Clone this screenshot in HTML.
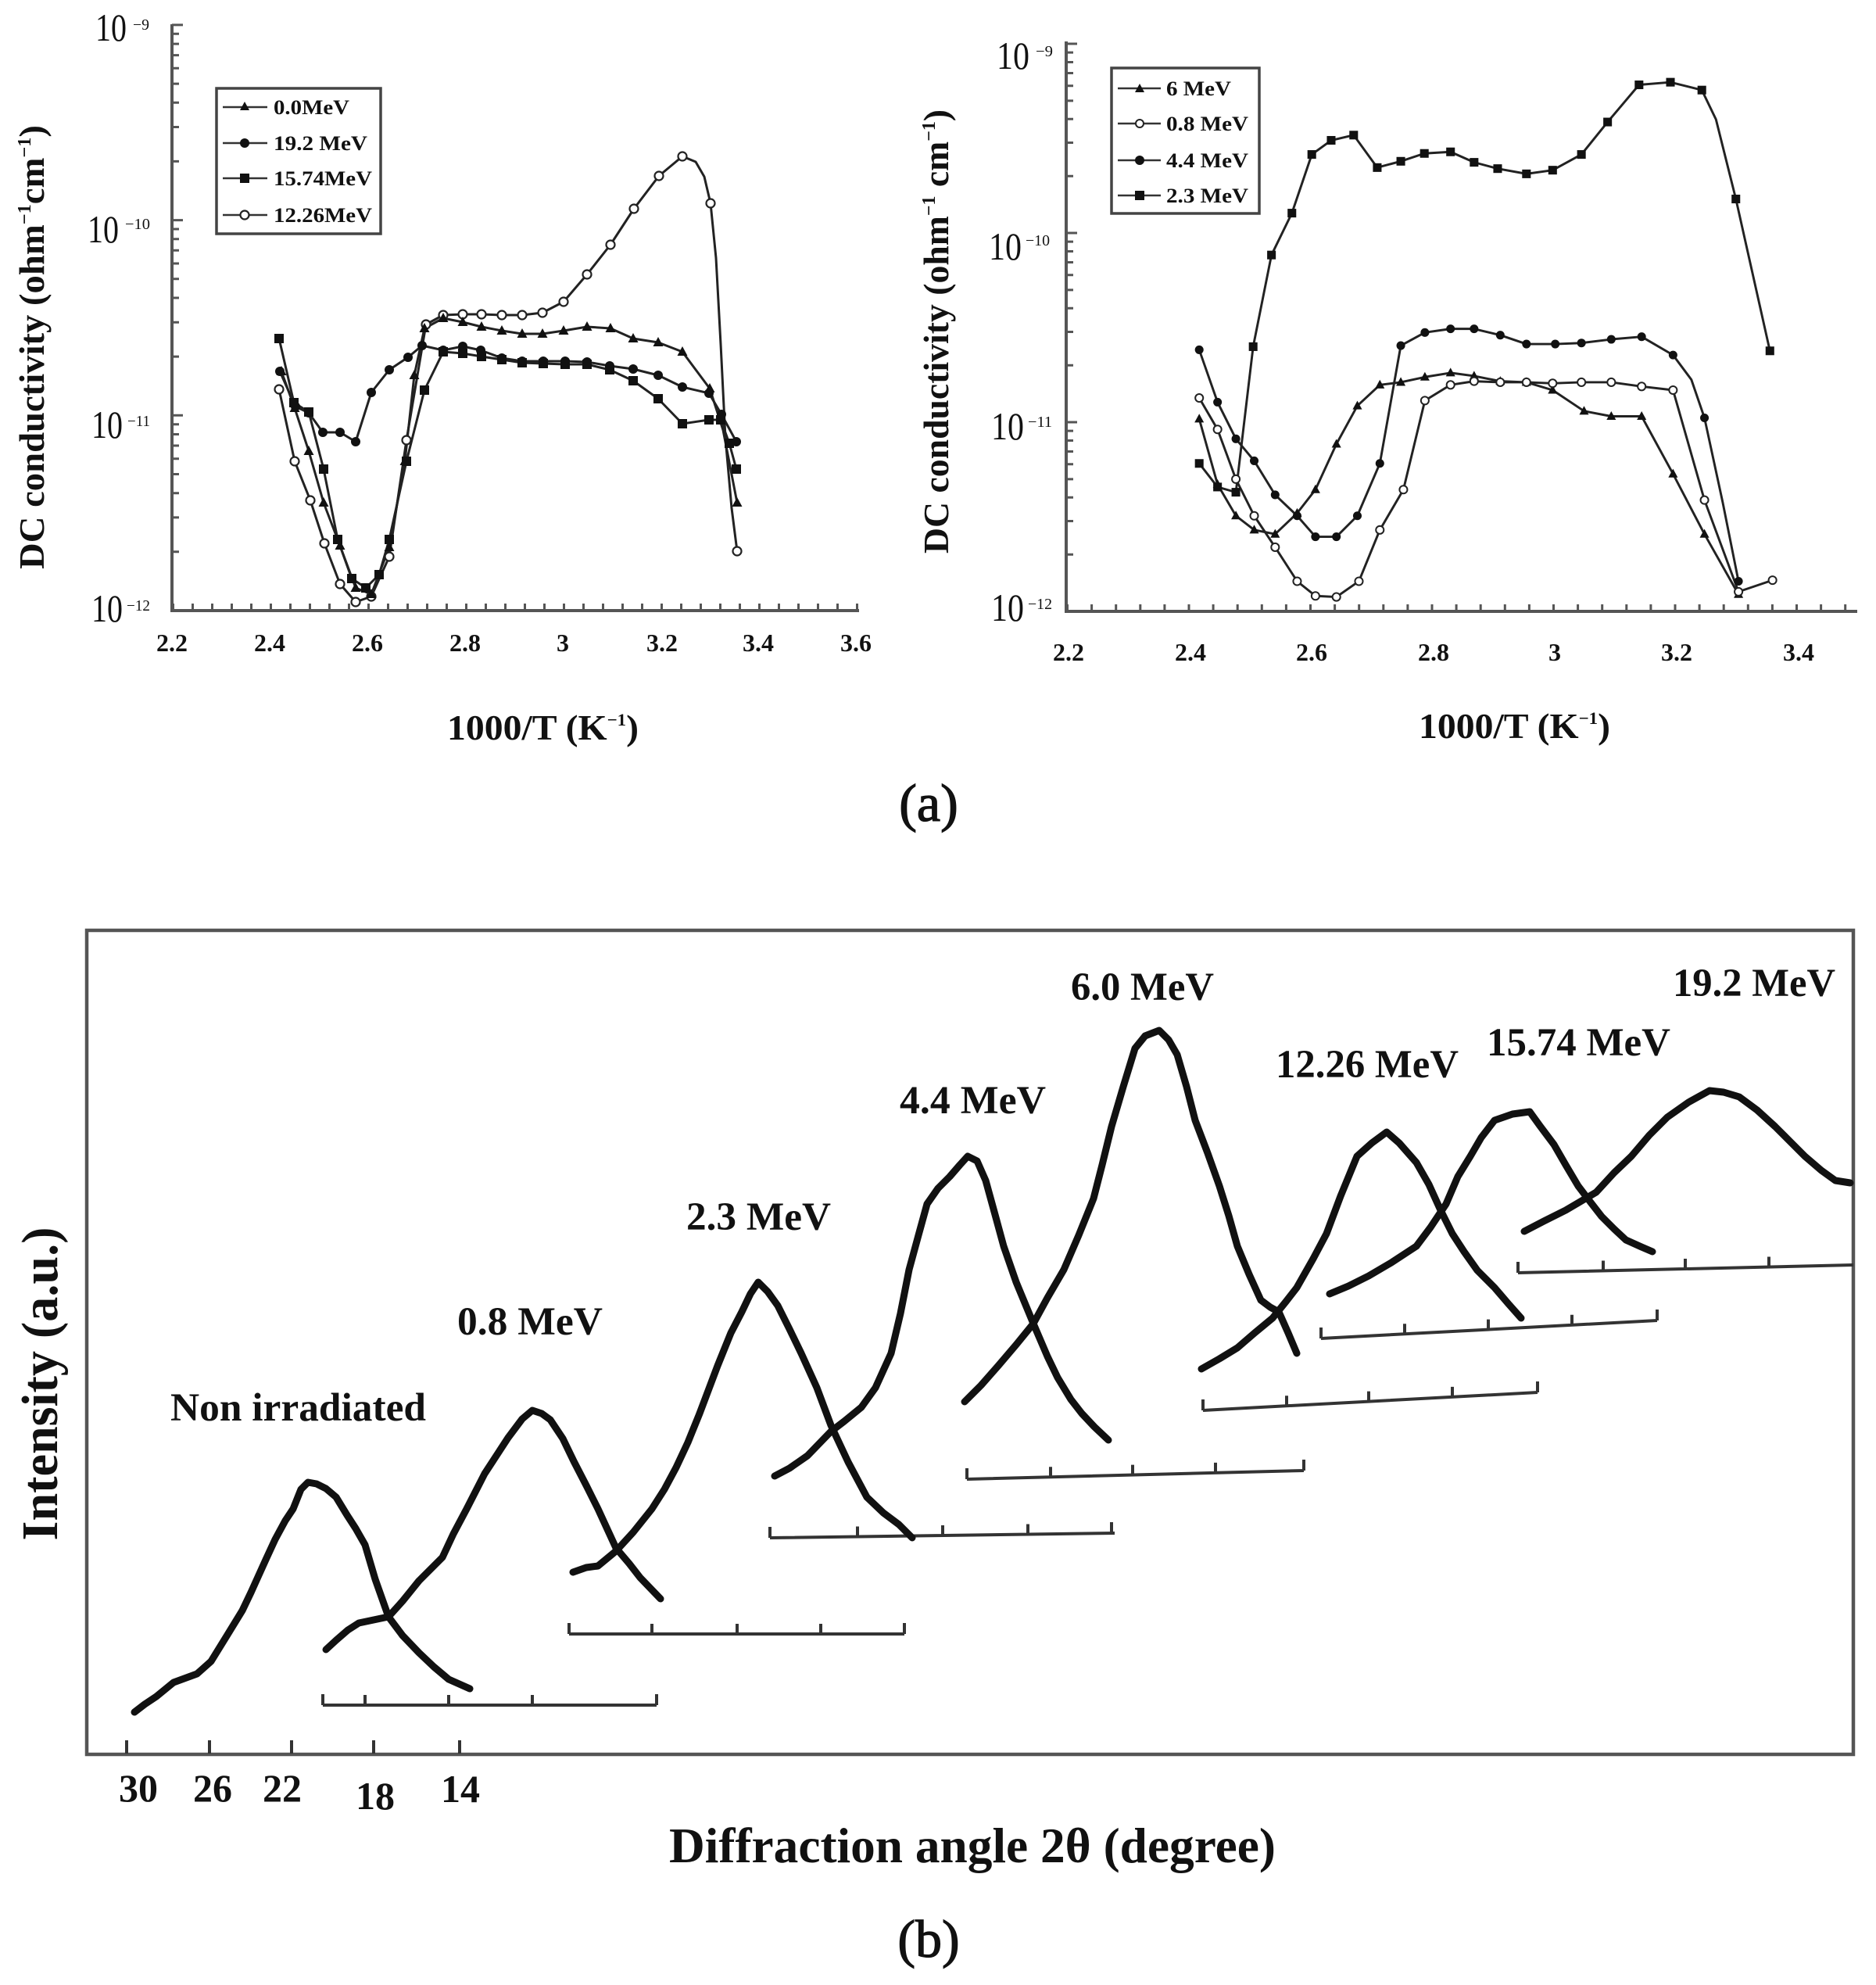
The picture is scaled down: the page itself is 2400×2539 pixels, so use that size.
<!DOCTYPE html>
<html><head><meta charset="utf-8"><style>html,body{margin:0;padding:0;background:#fff}svg{display:block}</style></head>
<body>
<svg width="2400" height="2539" viewBox="0 0 2400 2539" xmlns="http://www.w3.org/2000/svg" font-family="'Liberation Serif', serif">
<rect width="2400" height="2539" fill="#fff"/>
<defs>
<marker id="tL" markerUnits="userSpaceOnUse" markerWidth="16" markerHeight="16" viewBox="-8 -8 16 16" refX="0" refY="0" overflow="visible"><polygon points="0,-7 6.5,5 -6.5,5" fill="#111"/></marker>
<marker id="cL" markerUnits="userSpaceOnUse" markerWidth="16" markerHeight="16" viewBox="-8 -8 16 16" refX="0" refY="0" overflow="visible"><circle r="6" fill="#111"/></marker>
<marker id="sL" markerUnits="userSpaceOnUse" markerWidth="16" markerHeight="16" viewBox="-8 -8 16 16" refX="0" refY="0" overflow="visible"><rect x="-6" y="-6" width="12" height="12" fill="#111"/></marker>
<marker id="oL" markerUnits="userSpaceOnUse" markerWidth="16" markerHeight="16" viewBox="-8 -8 16 16" refX="0" refY="0" overflow="visible"><circle r="5.5" fill="#fff" stroke="#222" stroke-width="2.2"/></marker>
<marker id="tR" markerUnits="userSpaceOnUse" markerWidth="24" markerHeight="24" viewBox="-8 -8 16 16" refX="0" refY="0" overflow="visible"><polygon points="0,-6.5 6,4.5 -6,4.5" fill="#111"/></marker>
<marker id="cR" markerUnits="userSpaceOnUse" markerWidth="24" markerHeight="24" viewBox="-8 -8 16 16" refX="0" refY="0" overflow="visible"><circle r="5.5" fill="#111"/></marker>
<marker id="sR" markerUnits="userSpaceOnUse" markerWidth="24" markerHeight="24" viewBox="-8 -8 16 16" refX="0" refY="0" overflow="visible"><rect x="-5.5" y="-5.5" width="11" height="11" fill="#111"/></marker>
<marker id="oR" markerUnits="userSpaceOnUse" markerWidth="24" markerHeight="24" viewBox="-8 -8 16 16" refX="0" refY="0" overflow="visible"><circle r="5" fill="#fff" stroke="#222" stroke-width="2"/></marker>
</defs>

<!-- ============ LEFT TOP CHART ============ -->
<g stroke="#555" fill="none">
<line x1="220" y1="31" x2="220" y2="781" stroke-width="4"/>
<line x1="218" y1="781" x2="1099" y2="781" stroke-width="4"/>
<line x1="220" y1="776" x2="1099" y2="776" stroke-width="8" stroke-dasharray="3 22"/>
<path stroke-width="3" d="M220 781h14M220 531.3h14M220 281.6h14M220 31.9h14
M220 705.8h9M220 661.9h9M220 630.7h9M220 606.5h9M220 586.7h9M220 570h9M220 555.5h9M220 542.7h9
M220 456.1h9M220 412.2h9M220 381h9M220 356.8h9M220 337h9M220 320.3h9M220 305.8h9M220 293h9
M220 206.4h9M220 162.5h9M220 131.3h9M220 107.1h9M220 87.3h9M220 70.6h9M220 56.1h9M220 43.3h9"/>
</g>
<g fill="#111">
<text x="122" y="52" font-size="50" textLength="40" lengthAdjust="spacingAndGlyphs">10</text>
<text x="170" y="38" font-size="20" textLength="21" lengthAdjust="spacingAndGlyphs">−9</text>
<text x="112" y="310" font-size="50" textLength="40" lengthAdjust="spacingAndGlyphs">10</text>
<text x="160" y="293" font-size="20" textLength="32" lengthAdjust="spacingAndGlyphs">−10</text>
<text x="117" y="560" font-size="50" textLength="40" lengthAdjust="spacingAndGlyphs">10</text>
<text x="163" y="545" font-size="20" textLength="29" lengthAdjust="spacingAndGlyphs">−11</text>
<text x="117" y="795" font-size="50" textLength="40" lengthAdjust="spacingAndGlyphs">10</text>
<text x="162" y="781" font-size="20" textLength="30" lengthAdjust="spacingAndGlyphs">−12</text>
</g>
<g font-size="32" font-weight="bold" text-anchor="middle" fill="#111">
<text x="220" y="833">2.2</text><text x="345" y="833">2.4</text><text x="470" y="833">2.6</text><text x="595" y="833">2.8</text>
<text x="720" y="833">3</text><text x="847" y="833">3.2</text><text x="970" y="833">3.4</text><text x="1095" y="833">3.6</text>
</g>
<text x="572" y="946" font-size="46" font-weight="bold" fill="#111" textLength="245" lengthAdjust="spacingAndGlyphs">1000/T (K<tspan font-size="22" dy="-18">−1</tspan><tspan dy="18">)</tspan></text>
<text transform="translate(56,444) rotate(-90)" text-anchor="middle" font-size="46" font-weight="bold" fill="#111" textLength="568" lengthAdjust="spacingAndGlyphs">DC conductivity (ohm<tspan font-size="24" dy="-17">−1</tspan><tspan dy="17">cm</tspan><tspan font-size="24" dy="-17">−1</tspan><tspan dy="17">)</tspan></text>

<!-- legend left -->
<rect x="277" y="113" width="210" height="186" fill="#fff" stroke="#444" stroke-width="3.5"/>
<g stroke="#333" stroke-width="2.6">
<line x1="285" y1="137" x2="342" y2="137"/><line x1="285" y1="183" x2="342" y2="183"/>
<line x1="285" y1="228" x2="342" y2="228"/><line x1="285" y1="275" x2="342" y2="275"/>
</g>
<polygon points="313,130 319,141 307,141" fill="#111"/>
<circle cx="313" cy="183" r="6" fill="#111"/>
<rect x="307" y="222" width="12" height="12" fill="#111"/>
<circle cx="313" cy="275" r="5.5" fill="#fff" stroke="#222" stroke-width="2.2"/>
<g font-size="26" font-weight="bold" fill="#111">
<text x="350" y="146" textLength="97" lengthAdjust="spacingAndGlyphs">0.0MeV</text>
<text x="350" y="192" textLength="120" lengthAdjust="spacingAndGlyphs">19.2 MeV</text>
<text x="350" y="237" textLength="126" lengthAdjust="spacingAndGlyphs">15.74MeV</text>
<text x="350" y="284" textLength="126" lengthAdjust="spacingAndGlyphs">12.26MeV</text>
</g>

<!-- left curves -->
<g fill="none" stroke="#222" stroke-width="3" stroke-linejoin="round">
<polyline points="357,498 377,590 397,640 415,695 435,747 455,770 475,763 498,712 520,563 545,415 567,403 592,402 616,402 642,403 668,403 694,400 721,386 751,351 781,313 811,267 843,225 873,200 890,207 901,226 909,260 916,330 922,440 928,560 936,650 943,705"/>
<polyline points="360,475 377,522 395,577 414,643 435,698 455,752 475,760 498,700 518,590 530,480 543,420 567,407 592,412 616,418 642,423 668,427 694,427 721,423 751,418 781,420 810,433 842,438 873,450 908,497 925,550 943,643"/>
<polyline points="358,475 378,520 395,528 413,553 435,553 455,565 475,502 498,473 522,457 540,442 567,448 592,443 615,448 642,458 668,462 695,462 723,462 751,463 780,468 810,472 842,480 873,495 907,503 923,530 942,565"/>
<polyline points="357,433 376,515 395,527 414,600 432,690 450,740 468,752 485,735 498,690 520,590 543,499 567,450 592,452 616,456 642,460 668,464 695,465 723,466 751,466 780,473 810,487 842,510 873,542 907,537 922,537 933,567 942,600"/>
</g>
<g fill="none" stroke="none">
<polyline marker-start="url(#oL)" marker-mid="url(#oL)" marker-end="url(#oL)" points="357,498 377,590 397,640 415,695 435,747 455,770 475,763 498,712 520,563 545,415 567,403 592,402 616,402 642,403 668,403 694,400 721,386 751,351 781,313 811,267 843,225 873,200 909,260 943,705"/>
<polyline marker-start="url(#tL)" marker-mid="url(#tL)" marker-end="url(#tL)" points="360,475 377,522 395,577 414,643 435,698 455,752 475,760 498,700 518,590 530,480 543,420 567,407 592,412 616,418 642,423 668,427 694,427 721,423 751,418 781,420 810,433 842,438 873,450 908,497 943,643"/>
<polyline marker-start="url(#cL)" marker-mid="url(#cL)" marker-end="url(#cL)" points="358,475 378,520 395,528 413,553 435,553 455,565 475,502 498,473 522,457 540,442 567,448 592,443 615,448 642,458 668,462 695,462 723,462 751,463 780,468 810,472 842,480 873,495 907,503 923,530 942,565"/>
<polyline marker-start="url(#sL)" marker-mid="url(#sL)" marker-end="url(#sL)" points="357,433 376,515 395,527 414,600 432,690 450,740 468,752 485,735 498,690 520,590 543,499 567,450 592,452 616,456 642,460 668,464 695,465 723,466 751,466 780,473 810,487 842,510 873,542 907,537 922,537 933,567 942,600"/>
</g>

<!-- ============ RIGHT TOP CHART ============ -->
<g stroke="#555" fill="none">
<line x1="1364" y1="53" x2="1364" y2="782" stroke-width="4"/>
<line x1="1362" y1="782" x2="2376" y2="782" stroke-width="4"/>
<line x1="1364" y1="777" x2="2376" y2="777" stroke-width="8" stroke-dasharray="3 28.1"/>
<path stroke-width="3" d="M1364 782h14M1364 540h14M1364 298h14M1364 56h14
M1364 709.2h9M1364 666.5h9M1364 636.3h9M1364 612.9h9M1364 593.7h9M1364 577.5h9M1364 563.5h9M1364 551.1h9
M1364 467.2h9M1364 424.5h9M1364 394.3h9M1364 370.9h9M1364 351.7h9M1364 335.5h9M1364 321.5h9M1364 309.1h9
M1364 225.2h9M1364 182.5h9M1364 152.3h9M1364 128.9h9M1364 109.7h9M1364 93.5h9M1364 79.5h9M1364 67.1h9"/>
</g>
<g fill="#111">
<text x="1275" y="88" font-size="50" textLength="42" lengthAdjust="spacingAndGlyphs">10</text>
<text x="1325" y="72" font-size="20" textLength="22" lengthAdjust="spacingAndGlyphs">−9</text>
<text x="1265" y="332" font-size="50" textLength="42" lengthAdjust="spacingAndGlyphs">10</text>
<text x="1312" y="314" font-size="20" textLength="31" lengthAdjust="spacingAndGlyphs">−10</text>
<text x="1268" y="562" font-size="50" textLength="42" lengthAdjust="spacingAndGlyphs">10</text>
<text x="1315" y="546" font-size="20" textLength="31" lengthAdjust="spacingAndGlyphs">−11</text>
<text x="1268" y="794" font-size="50" textLength="42" lengthAdjust="spacingAndGlyphs">10</text>
<text x="1315" y="779" font-size="20" textLength="31" lengthAdjust="spacingAndGlyphs">−12</text>
</g>
<g font-size="32" font-weight="bold" text-anchor="middle" fill="#111">
<text x="1367" y="845">2.2</text><text x="1523" y="845">2.4</text><text x="1678" y="845">2.6</text><text x="1834" y="845">2.8</text>
<text x="1989" y="845">3</text><text x="2145" y="845">3.2</text><text x="2301" y="845">3.4</text>
</g>
<text x="1815" y="944" font-size="46" font-weight="bold" fill="#111" textLength="245" lengthAdjust="spacingAndGlyphs">1000/T (K<tspan font-size="22" dy="-18">−1</tspan><tspan dy="18">)</tspan></text>
<text transform="translate(1213,424) rotate(-90)" text-anchor="middle" font-size="46" font-weight="bold" fill="#111" textLength="568" lengthAdjust="spacingAndGlyphs">DC conductivity (ohm<tspan font-size="24" dy="-17">−1</tspan><tspan dy="17"> cm</tspan><tspan font-size="24" dy="-17">−1</tspan><tspan dy="17">)</tspan></text>

<!-- legend right -->
<rect x="1422" y="87" width="189" height="186" fill="#fff" stroke="#444" stroke-width="3.5"/>
<g stroke="#333" stroke-width="2.6">
<line x1="1430" y1="113" x2="1485" y2="113"/><line x1="1430" y1="158" x2="1485" y2="158"/>
<line x1="1430" y1="205" x2="1485" y2="205"/><line x1="1430" y1="250" x2="1485" y2="250"/>
</g>
<polygon points="1458,107 1464,118 1452,118" fill="#111"/>
<circle cx="1458" cy="158" r="5" fill="#fff" stroke="#222" stroke-width="2"/>
<circle cx="1458" cy="205" r="6" fill="#111"/>
<rect x="1452" y="244" width="12" height="12" fill="#111"/>
<g font-size="26" font-weight="bold" fill="#111">
<text x="1492" y="122" textLength="83" lengthAdjust="spacingAndGlyphs">6 MeV</text>
<text x="1492" y="167" textLength="105" lengthAdjust="spacingAndGlyphs">0.8 MeV</text>
<text x="1492" y="214" textLength="105" lengthAdjust="spacingAndGlyphs">4.4 MeV</text>
<text x="1492" y="259" textLength="105" lengthAdjust="spacingAndGlyphs">2.3 MeV</text>
</g>

<g transform="translate(1350,0) scale(0.6698)">
<g fill="none" stroke="#222" stroke-width="4.4" stroke-linejoin="round">
<polyline points="275,885 310,930 345,940 378,662 413,487 452,407 490,295 527,268 570,258 615,320 660,308 705,293 755,290 800,310 845,322 900,332 950,325 1005,295 1055,233 1115,162 1175,157 1235,172 1262,228 1300,380 1365,670"/>
<polyline points="275,668 310,768 345,838 380,880 420,945 462,985 497,1025 537,1025 577,985 620,885 660,660 706,635 755,628 800,628 850,640 900,657 955,657 1005,655 1062,648 1120,643 1180,678 1215,725 1240,798 1275,960 1305,1110"/>
<polyline points="275,800 310,925 345,985 380,1012 420,1020 462,980 497,935 537,848 577,775 620,735 660,730 706,720 755,712 800,718 850,728 900,730 950,745 1010,785 1062,795 1120,795 1180,905 1240,1020 1305,1135"/>
<polyline points="275,760 310,820 345,915 380,985 420,1045 462,1110 497,1138 537,1140 580,1110 620,1012 665,935 706,765 755,735 800,728 850,730 900,730 950,732 1005,730 1062,730 1120,738 1180,745 1240,955 1305,1130 1370,1108"/>
</g>
<g fill="none" stroke="none">
<polyline marker-start="url(#sR)" marker-mid="url(#sR)" marker-end="url(#sR)" points="275,885 310,930 345,940 378,662 413,487 452,407 490,295 527,268 570,258 615,320 660,308 705,293 755,290 800,310 845,322 900,332 950,325 1005,295 1055,233 1115,162 1175,157 1235,172 1300,380 1365,670"/>
<polyline marker-start="url(#cR)" marker-mid="url(#cR)" marker-end="url(#cR)" points="275,668 310,768 345,838 380,880 420,945 462,985 497,1025 537,1025 577,985 620,885 660,660 706,635 755,628 800,628 850,640 900,657 955,657 1005,655 1062,648 1120,643 1180,678 1240,798 1305,1110"/>
<polyline marker-start="url(#tR)" marker-mid="url(#tR)" marker-end="url(#tR)" points="275,800 310,925 345,985 380,1012 420,1020 462,980 497,935 537,848 577,775 620,735 660,730 706,720 755,712 800,718 850,728 900,730 950,745 1010,785 1062,795 1120,795 1180,905 1240,1020 1305,1135"/>
<polyline marker-start="url(#oR)" marker-mid="url(#oR)" marker-end="url(#oR)" points="275,760 310,820 345,915 380,985 420,1045 462,1110 497,1138 537,1140 580,1110 620,1012 665,935 706,765 755,735 800,728 850,730 900,730 950,732 1005,730 1062,730 1120,738 1180,745 1240,955 1305,1130 1370,1108"/>
</g>
</g>

<text x="1188" y="1050" font-size="68" text-anchor="middle" fill="#111" stroke="#111" stroke-width="1.3">(a)</text>

<!-- ============ BOTTOM PANEL ============ -->
<rect x="111" y="1190" width="2260" height="1054" fill="none" stroke="#555" stroke-width="4.5"/>
<path d="M162 2243v-17M268 2243v-17M373 2243v-17M478 2243v-17M588 2243v-17" stroke="#333" stroke-width="4"/>
<g font-size="50" font-weight="bold" text-anchor="middle" fill="#111">
<text x="177" y="2304">30</text><text x="272" y="2304">26</text><text x="361" y="2304">22</text>
<text x="480" y="2314">18</text><text x="589" y="2305">14</text>
</g>
<text x="856" y="2382" font-size="64" font-weight="bold" fill="#111" textLength="776" lengthAdjust="spacingAndGlyphs">Diffraction angle 2θ (degree)</text>
<text transform="translate(73,1770) rotate(-90)" text-anchor="middle" font-size="66" font-weight="bold" fill="#111" textLength="401" lengthAdjust="spacingAndGlyphs">Intensity (a.u.)</text>
<text x="1188" y="2503" font-size="68" text-anchor="middle" fill="#111" stroke="#111" stroke-width="1.3">(b)</text>

<!-- baselines/brackets -->
<g fill="none" stroke="#333" stroke-width="4">
<path d="M413 2181H840M413 2181v-14M467 2181v-13M574 2181v-13M681 2181v-13M840 2181v-14"/>
<path d="M728 2090H1157M728 2090v-14M834 2090v-13M943 2090v-13M1050 2090v-13M1157 2090v-14"/>
<path d="M985 1967L1426 1961M985 1967v-14M1097 1965.5v-13M1206 1964v-13M1315 1962.5v-13M1422 1961v-14"/>
<path d="M1237 1892L1668 1881M1237 1892v-14M1344 1889.3v-13M1449 1886.6v-13M1555 1883.9v-13M1668 1881v-14"/>
<path d="M1539 1804L1967 1781M1539 1804v-14M1646 1798.2v-13M1751 1792.6v-13M1858 1786.9v-13M1967 1781v-14"/>
<path d="M1690 1712L2120 1689M1690 1712v-14M1797 1706.3v-13M1904 1700.6v-13M2011 1694.8v-13M2120 1689v-14"/>
<path d="M1942 1628L2371 1618M1942 1628v-14M2051 1625.5v-13M2156 1623v-13M2263 1620.5v-13"/>
</g>

<!-- diffraction curves -->
<g fill="none" stroke="#111" stroke-width="9" stroke-linejoin="round" stroke-linecap="round">
<polyline points="172,2190 185,2180 200,2170 222,2152 252,2141 270,2125 291,2091 310,2060 321,2037 340,1995 352,1969 365,1945 375,1930 385,1905 394,1896 405,1898 417,1904 430,1915 444,1938 455,1955 467,1976 480,2020 497,2068 515,2092 536,2114 555,2132 574,2148 601,2160"/>
<polyline points="417,2110 430,2098 445,2085 459,2076 478,2072 497,2068 515,2048 536,2022 555,2003 566,1992 580,1962 597,1930 620,1885 650,1839 668,1815 681,1804 693,1808 704,1816 720,1840 734,1869 750,1900 765,1930 788,1980 805,2000 819,2018 845,2045"/>
<polyline points="733,2011 750,2005 765,2003 788,1984 810,1960 834,1930 850,1905 865,1877 880,1845 895,1808 918,1747 935,1705 949,1678 960,1655 970,1640 982,1652 995,1670 1010,1700 1025,1731 1045,1775 1063,1823 1085,1870 1109,1915 1130,1935 1150,1950 1167,1967"/>
<polyline points="991,1888 1010,1878 1033,1862 1063,1831 1080,1818 1102,1800 1120,1775 1140,1731 1152,1680 1163,1624 1175,1580 1186,1540 1200,1520 1215,1505 1228,1490 1238,1479 1250,1485 1261,1510 1272,1550 1284,1594 1300,1640 1322,1693 1340,1735 1353,1762 1370,1790 1384,1808 1400,1825 1418,1842"/>
<polyline points="1234,1793 1255,1772 1277,1747 1300,1720 1322,1693 1340,1660 1361,1624 1380,1580 1399,1533 1410,1490 1422,1441 1437,1390 1452,1341 1465,1325 1483,1318 1495,1330 1506,1349 1518,1390 1529,1433 1545,1475 1560,1517 1572,1555 1583,1594 1598,1630 1613,1663 1625,1672 1636,1678 1648,1705 1659,1731"/>
<polyline points="1537,1751 1560,1738 1583,1724 1605,1705 1628,1686 1645,1665 1659,1647 1680,1610 1697,1578 1715,1530 1736,1479 1755,1462 1774,1448 1790,1462 1812,1487 1828,1515 1843,1548 1858,1578 1873,1601 1890,1625 1912,1647 1930,1668 1946,1686"/>
<polyline points="1701,1655 1725,1645 1751,1632 1780,1615 1812,1594 1830,1570 1850,1540 1865,1505 1881,1479 1895,1455 1912,1433 1935,1425 1957,1422 1970,1440 1988,1464 2003,1490 2019,1517 2035,1538 2049,1556 2065,1572 2080,1586 2100,1595 2114,1601"/>
<polyline points="1950,1575 1975,1562 2003,1548 2020,1538 2042,1525 2065,1500 2087,1479 2110,1452 2133,1429 2160,1410 2187,1395 2205,1397 2225,1403 2248,1420 2271,1441 2290,1460 2309,1479 2330,1497 2348,1510 2367,1513"/>
</g>

<g font-size="51" font-weight="bold" fill="#111">
<text x="218" y="1817" textLength="327" lengthAdjust="spacingAndGlyphs">Non irradiated</text>
<text x="585" y="1707" textLength="186" lengthAdjust="spacingAndGlyphs">0.8 MeV</text>
<text x="878" y="1573" textLength="185" lengthAdjust="spacingAndGlyphs">2.3 MeV</text>
<text x="1151" y="1424" textLength="187" lengthAdjust="spacingAndGlyphs">4.4 MeV</text>
<text x="1370" y="1279" textLength="183" lengthAdjust="spacingAndGlyphs">6.0 MeV</text>
<text x="1632" y="1378" textLength="234" lengthAdjust="spacingAndGlyphs">12.26 MeV</text>
<text x="1902" y="1350" textLength="235" lengthAdjust="spacingAndGlyphs">15.74 MeV</text>
<text x="2140" y="1274" textLength="208" lengthAdjust="spacingAndGlyphs">19.2 MeV</text>
</g>
</svg>
</body></html>
